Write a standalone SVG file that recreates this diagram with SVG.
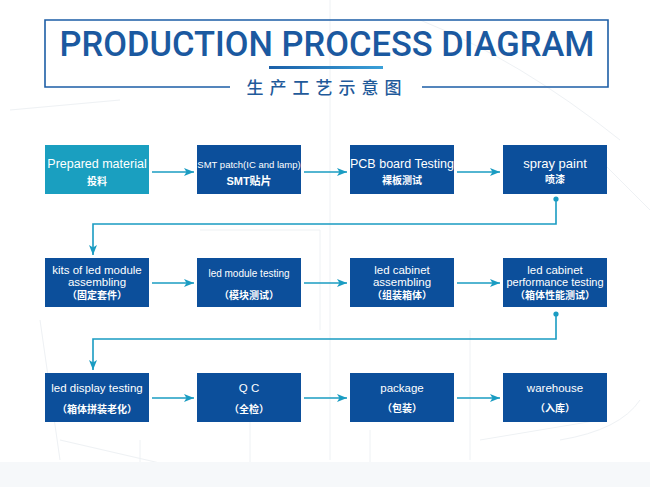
<svg xmlns="http://www.w3.org/2000/svg" width="650" height="494" viewBox="0 0 650 494">
<defs>
<style>
.box{fill:#0c4f9b}
.box1{fill:#1a9fc0}
.t{font-family:"Liberation Sans",Arial,sans-serif;fill:#ffffff;text-anchor:middle}
.c{font-family:"Liberation Sans","Noto Sans CJK SC",sans-serif;fill:#ffffff;text-anchor:middle;font-weight:bold}
.con{fill:none;stroke:#1a9cc2;stroke-width:1.6}
.bg{fill:none;stroke:#eef1f4;stroke-width:1}
</style>
<marker id="ah" viewBox="0 0 10 8" refX="10" refY="4" markerWidth="10" markerHeight="8" markerUnits="userSpaceOnUse" orient="auto">
<path d="M0,0 L10,4 L0,8 L2.5,4 Z" fill="#1a9cc2"/>
</marker>
<linearGradient id="bar" x1="0" x2="1" y1="0" y2="0">
<stop offset="0" stop-color="#1a5fa8"/>
<stop offset="1" stop-color="#3aa0d8"/>
</linearGradient>
</defs>
<rect x="0" y="0" width="650" height="494" fill="#ffffff"/>
<g id="background">
<path class="bg" d="M330,0 L330,460 M420,20 Q520,60 620,140 M60,440 L190,470 M480,440 L600,420 M600,160 L650,210 M10,110 L120,100 M200,230 L320,230 L320,330 M470,330 L470,460 M560,440 Q620,430 640,400 M40,320 L60,460 M140,440 L140,470 M250,420 L250,470 M370,430 L370,470"/>
<rect x="0" y="462" width="650" height="25" fill="#f6f8fa"/>
</g>
<g id="title">
<path d="M230,87 L45,87 L45,20 L608,20 L608,87 L422,87" fill="none" stroke="#1d5ea6" stroke-width="1.6"/>
<text x="327" y="56" font-family="Roboto,'Liberation Sans',sans-serif" font-weight="500" font-size="35" fill="#1b59a0" text-anchor="middle" textLength="535" lengthAdjust="spacingAndGlyphs">PRODUCTION PROCESS DIAGRAM</text>
<rect x="269" y="66" width="114" height="3" fill="url(#bar)"/>
<text x="327" y="94" font-family="'Noto Sans CJK SC',sans-serif" font-weight="500" font-size="17" fill="#1f5a9a" text-anchor="middle" letter-spacing="6">生产工艺示意图</text>
</g>
<g id="n1"><rect class="box1" x="45" y="145" width="104" height="49"/>
<text class="t" x="97" y="168" font-size="12.5">Prepared material</text>
<text class="c" x="97" y="185" font-size="10">投料</text></g>
<g id="n2"><rect class="box" x="197" y="145" width="104" height="49"/>
<text class="t" x="249" y="168" font-size="9.5">SMT patch(IC and lamp)</text>
<text class="c" x="249" y="185" font-size="11">SMT贴片</text></g>
<g id="n3"><rect class="box" x="350" y="145" width="104" height="49"/>
<text class="t" x="402" y="168" font-size="12.5">PCB board Testing</text>
<text class="c" x="402" y="184" font-size="10">裸板测试</text></g>
<g id="n4"><rect class="box" x="503" y="145" width="104" height="49"/>
<text class="t" x="555" y="168" font-size="13">spray paint</text>
<text class="c" x="555" y="183" font-size="10">喷漆</text></g>
<g id="n5"><rect class="box" x="45" y="258" width="104" height="49"/>
<text class="t" x="97" y="274" font-size="11.5">kits of led module</text>
<text class="t" x="97" y="285.5" font-size="11.5">assembling</text>
<text class="c" x="97" y="298.5" font-size="10">（固定套件）</text></g>
<g id="n6"><rect class="box" x="197" y="258" width="104" height="49"/>
<text class="t" x="249" y="277" font-size="10">led module testing</text>
<text class="c" x="249" y="298.5" font-size="10">（模块测试）</text></g>
<g id="n7"><rect class="box" x="350" y="258" width="104" height="49"/>
<text class="t" x="402" y="274" font-size="11.5">led cabinet</text>
<text class="t" x="402" y="285.5" font-size="11.5">assembling</text>
<text class="c" x="402" y="298.5" font-size="10">（组装箱体）</text></g>
<g id="n8"><rect class="box" x="503" y="258" width="104" height="49"/>
<text class="t" x="555" y="274" font-size="11.5">led cabinet</text>
<text class="t" x="555" y="285.5" font-size="11">performance testing</text>
<text class="c" x="555" y="298.5" font-size="10">（箱体性能测试）</text></g>
<g id="n9"><rect class="box" x="45" y="373" width="104" height="49"/>
<text class="t" x="97" y="392" font-size="11.5">led display testing</text>
<text class="c" x="97" y="413" font-size="10">（箱体拼装老化）</text></g>
<g id="n10"><rect class="box" x="197" y="373" width="104" height="49"/>
<text class="t" x="249" y="392" font-size="11.5">Q C</text>
<text class="c" x="249" y="413" font-size="10">（全检）</text></g>
<g id="n11"><rect class="box" x="350" y="373" width="104" height="49"/>
<text class="t" x="402" y="392" font-size="11.5">package</text>
<text class="c" x="402" y="412" font-size="10">（包装）</text></g>
<g id="n12"><rect class="box" x="503" y="373" width="104" height="49"/>
<text class="t" x="555" y="392" font-size="11.5">warehouse</text>
<text class="c" x="555" y="412" font-size="10">（入库）</text></g>
<g id="connectors">
<line class="con" x1="152" y1="172" x2="194" y2="172" marker-end="url(#ah)"/>
<line class="con" x1="304" y1="172" x2="347" y2="172" marker-end="url(#ah)"/>
<line class="con" x1="457" y1="172" x2="500" y2="172" marker-end="url(#ah)"/>
<circle cx="556" cy="199" r="2.6" fill="#1a9cc2"/>
<path class="con" d="M556,199 L556,224 L93,224 L93,255" marker-end="url(#ah)"/>
<line class="con" x1="152" y1="283" x2="194" y2="283" marker-end="url(#ah)"/>
<line class="con" x1="304" y1="283" x2="347" y2="283" marker-end="url(#ah)"/>
<line class="con" x1="457" y1="283" x2="500" y2="283" marker-end="url(#ah)"/>
<circle cx="556" cy="314" r="2.6" fill="#1a9cc2"/>
<path class="con" d="M556,314 L556,339 L93,339 L93,370" marker-end="url(#ah)"/>
<line class="con" x1="152" y1="398" x2="194" y2="398" marker-end="url(#ah)"/>
<line class="con" x1="304" y1="398" x2="347" y2="398" marker-end="url(#ah)"/>
<line class="con" x1="457" y1="398" x2="500" y2="398" marker-end="url(#ah)"/>
</g>
</svg>
